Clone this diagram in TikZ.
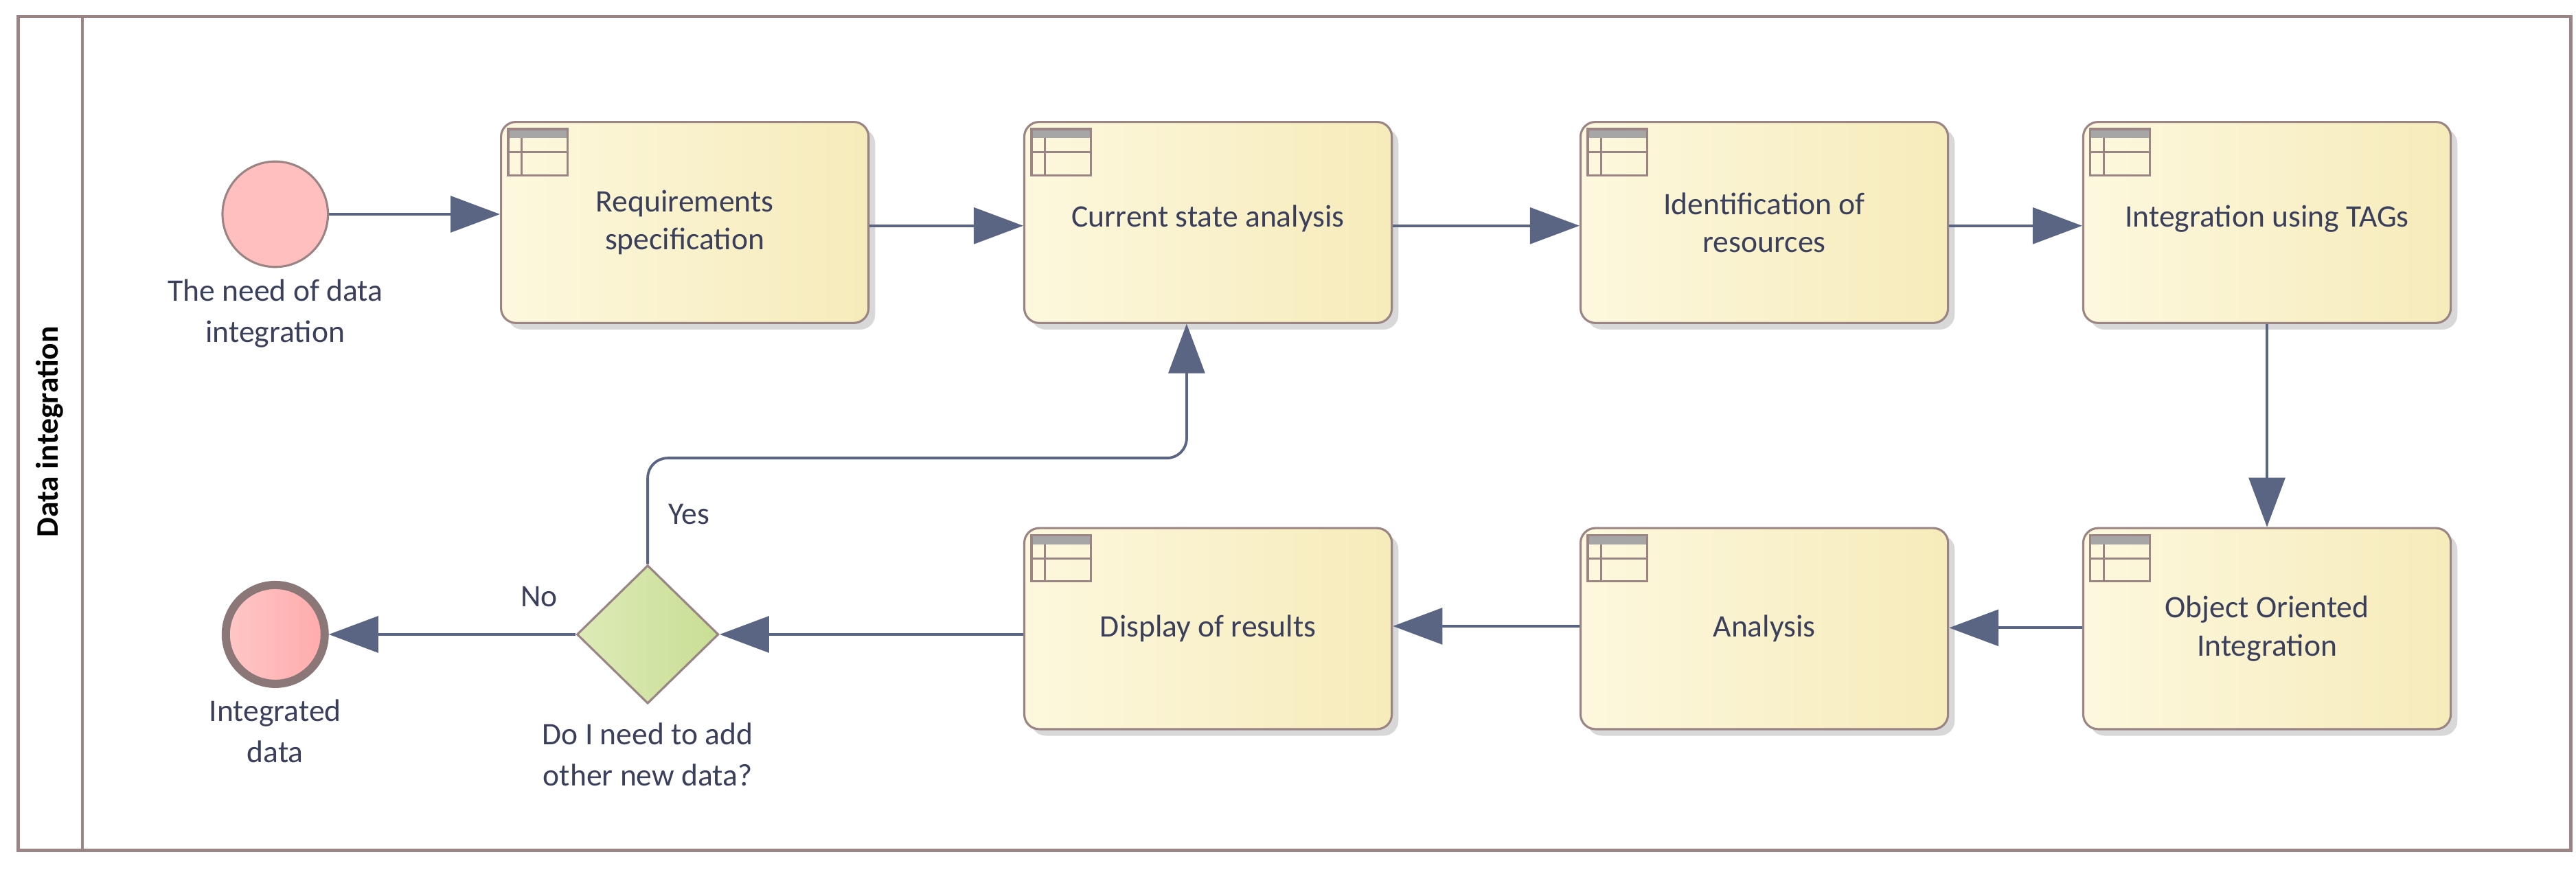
\documentclass[tikz,border=0pt]{standalone}
\usepackage{fontspec}
\setmainfont{Carlito}
\usetikzlibrary{arrows.meta,shadows,calc,shapes.geometric}
\definecolor{edge}{HTML}{5A6483}
\definecolor{bord}{HTML}{9A8484}
\definecolor{txt}{HTML}{3A3F5C}
\definecolor{gwa}{HTML}{DDEBB8}
\definecolor{gwb}{HTML}{C8DE94}
\definecolor{tka}{HTML}{FDF8DE}
\definecolor{tkb}{HTML}{F6EBBA}
\tikzset{
 task/.style={draw=bord,line width=1.3pt,rounded corners=9pt,left color=tka,right color=tkb,
   minimum width=223pt,minimum height=122pt,align=center,font=\fontsize{19}{23}\selectfont,text=txt,
   drop shadow={shadow xshift=4pt,shadow yshift=-4pt,fill=black!30,opacity=0.5}},
 lbl/.style={font=\fontsize{19}{25}\selectfont,text=txt,align=center},
 flow/.style={draw=edge,line width=1.6pt,-{Triangle[length=30pt,width=22pt]}},
}
\newcommand{\tskicon}[1]{%
 \fill[black!35] ($(#1.north west)+(5.6,5.6)$) rectangle ++(34.8,5);
 \draw[bord,line width=1.3pt] ($(#1.north west)+(5,5)$) rectangle ++(36,28);
 \draw[bord,line width=1.3pt] ($(#1.north west)+(5,19)$) -- ++(36,0) ($(#1.north west)+(13,10.6)$) -- ++(0,22.4);
}
\begin{document}
\begin{tikzpicture}[x=1pt,y=-1pt]
\useasboundingbox (0,0) rectangle (1563,529);
\draw[bord,line width=2pt] (11,10) rectangle (1560,516);
\draw[bord,line width=2pt] (50,10) -- (50,516);
\node[rotate=90,font=\bfseries\fontsize{19}{23}\selectfont,text=black] (lane) at (30,262) {Data integration};
% events
\node[circle,draw=bord,line width=1.3pt,fill=red!25,minimum size=64pt] (start) at (167,130) {};
\node[lbl,anchor=north] (startl) at (167,166) {The need of data\\integration};
\node[circle,draw=bord!90!black,line width=5pt,left color=red!22,right color=red!33,minimum size=60pt] (end) at (167,385) {};
\node[lbl,anchor=north] (endl) at (167,421) {Integrated\\data};
% tasks
\node[task] (req) at (415.5,135) {Requirements\\specification};
\node[task] (cur) at (733,135) {\raisebox{8pt}{Current state analysis}};
\node[task] (ide) at (1070.5,135) {Identification of\\resources};
\node[task] (tag) at (1375.5,135) {\raisebox{8pt}{Integration using TAGs}};
\node[task] (dis) at (733,381.5) {Display of results};
\node[task] (ana) at (1070.5,381.5) {Analysis};
\node[task] (ooi) at (1375.5,381.5) {Object Oriented\\Integration};
\foreach \n in {req,cur,ide,tag,dis,ana,ooi}{\tskicon{\n}}
% gateway
\node[diamond,draw=bord,line width=1.3pt,left color=gwa,right color=gwb,minimum width=86pt,minimum height=84pt,inner sep=0pt] (gw) at (393,385) {};
\node[lbl,anchor=north] (gwl) at (393,435) {Do I need to add\\other new data?};
% flows
\draw[flow] (start.east) -- (req.west |- start.east);
\draw[flow] (req.east |- 0,137) -- (cur.west |- 0,137);
\draw[flow] (cur.east |- 0,137) -- (ide.west |- 0,137);
\draw[flow] (ide.east |- 0,137) -- (tag.west |- 0,137);
\draw[flow] (tag.south) -- (ooi.north);
\draw[flow] (ooi.west |- 0,381) -- (ana.east |- 0,381);
\draw[flow] (ana.west |- 0,380) -- (dis.east |- 0,380);
\draw[flow] (dis.west |- gw.east) -- (gw.east);
\draw[flow] (gw.west) -- (end.east);
\draw[flow,rounded corners=12pt] (gw.north) -- (393,278) -- (720,278) -- (720,196.5);
\node[lbl] (yes) at (418,312) {Yes};
\node[lbl] (no) at (327,362) {No};
\end{tikzpicture}
\end{document}
